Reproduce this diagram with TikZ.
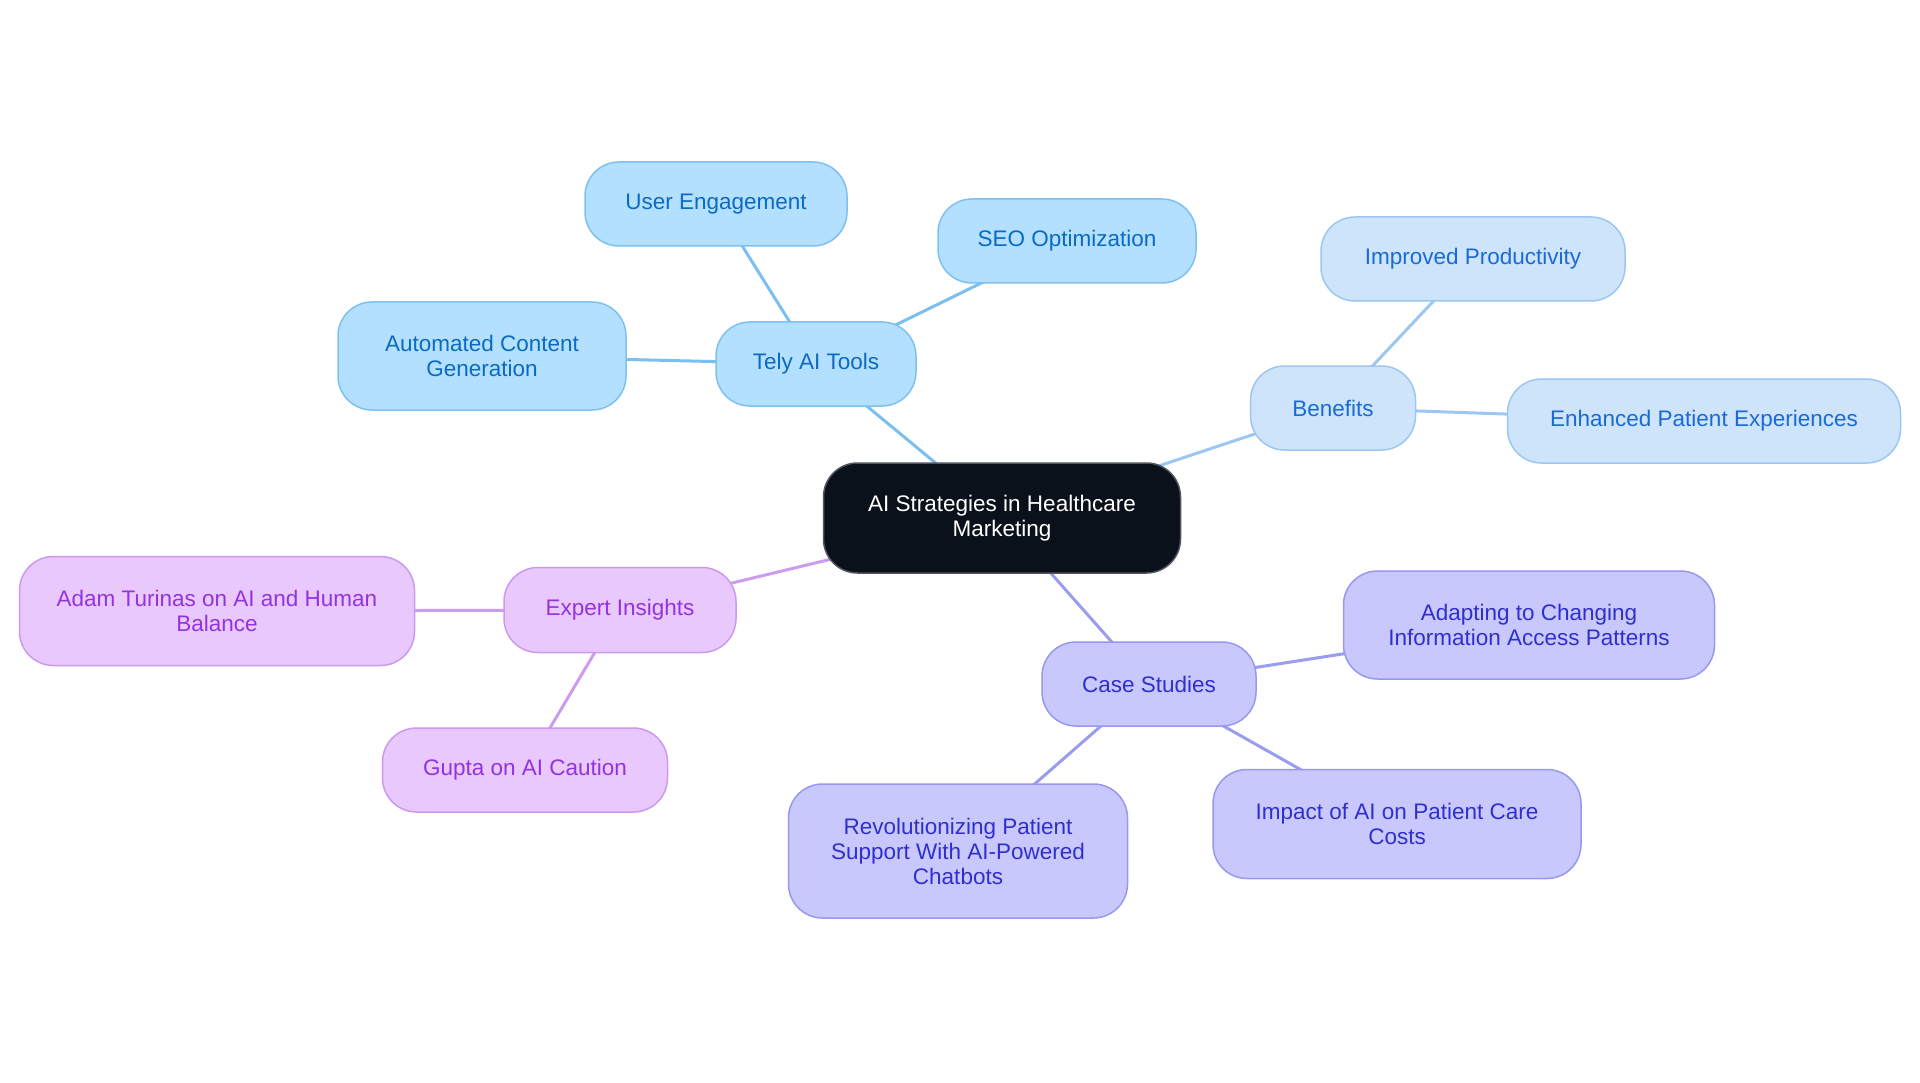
\documentclass[tikz,border=0pt]{standalone}
\usepackage{fontspec}
\setmainfont{Liberation Sans}
\usetikzlibrary{backgrounds}
\definecolor{rootfill}{HTML}{0B111B}
\definecolor{rootdraw}{HTML}{50565E}
\definecolor{tfill}{HTML}{B3E0FE}
\definecolor{tdraw}{HTML}{7EC1F0}
\definecolor{ttext}{HTML}{0B6AC4}
\definecolor{tline}{HTML}{7ABFF0}
\definecolor{bfill}{HTML}{CDE4FB}
\definecolor{bdraw}{HTML}{9DC6F2}
\definecolor{btext}{HTML}{1A6AD6}
\definecolor{bline}{HTML}{9DC6F2}
\definecolor{cfill}{HTML}{C8C8FD}
\definecolor{cdraw}{HTML}{9898F0}
\definecolor{ctext}{HTML}{2F2FD0}
\definecolor{cline}{HTML}{9A9CF0}
\definecolor{efill}{HTML}{E8C8FD}
\definecolor{edraw}{HTML}{CC99EE}
\definecolor{etext}{HTML}{9333E0}
\definecolor{eline}{HTML}{CC9CF0}
\begin{document}
\begin{tikzpicture}[x=1pt,y=-1pt,
  box/.style={draw, line width=1.5pt, rounded corners=34pt, align=center,
    inner sep=0pt, font=\fontsize{22.5}{25}\selectfont},
  rootbox/.style={box, fill=rootfill, draw=rootdraw, text=white},
  tbox/.style={box, fill=tfill, draw=tdraw, text=ttext},
  bbox/.style={box, fill=bfill, draw=bdraw, text=btext},
  cbox/.style={box, fill=cfill, draw=cdraw, text=ctext},
  ebox/.style={box, fill=efill, draw=edraw, text=etext},
  link/.style={line width=3pt}]
\useasboundingbox (0,0) rectangle (1920,1083);

\node[rootbox, minimum width=357pt, minimum height=110pt] (root) at (1002,518) {AI Strategies in Healthcare\\Marketing};

\node[tbox, minimum width=200pt, minimum height=84pt] (tely) at (816,364) {Tely AI Tools};
\node[tbox, minimum width=262pt, minimum height=84pt] (user) at (716,204) {User Engagement};
\node[tbox, minimum width=258pt, minimum height=84pt] (seo) at (1067,241) {SEO Optimization};
\node[tbox, minimum width=288pt, minimum height=108pt] (auto) at (482,356) {Automated Content\\Generation};

\node[bbox, minimum width=165pt, minimum height=84pt] (ben) at (1333,408) {Benefits};
\node[bbox, minimum width=304pt, minimum height=84pt] (prod) at (1473,259) {Improved Productivity};
\node[bbox, minimum width=393pt, minimum height=84pt] (enh) at (1704,421) {Enhanced Patient Experiences};

\node[ebox, minimum width=232pt, minimum height=85pt] (exp) at (620,610) {Expert Insights};
\node[ebox, minimum width=395pt, minimum height=109pt] (adam) at (217,611) {Adam Turinas on AI and Human\\Balance};
\node[ebox, minimum width=285pt, minimum height=84pt] (gupta) at (525,770) {Gupta on AI Caution};

\node[cbox, minimum width=214pt, minimum height=84pt] (case) at (1149,684) {Case Studies};
\node[cbox, minimum width=371pt, minimum height=108pt] (adapt) at (1529,625) {Adapting to Changing\\Information Access Patterns};
\node[cbox, minimum width=368pt, minimum height=109pt] (impact) at (1397,824) {Impact of AI on Patient Care\\Costs};
\node[cbox, minimum width=339pt, minimum height=134pt] (revo) at (958,851) {Revolutionizing Patient\\Support With AI-Powered\\Chatbots};

\begin{scope}[on background layer]
  \fill[white] (0,0) rectangle (1920,1083);
  \draw[link, tline] (root.center) -- (tely.center);
  \draw[link, tline] (tely.center) -- (user.center);
  \draw[link, tline] (tely.center) -- (seo.center);
  \draw[link, tline] (tely.center) -- (auto.center);
  \draw[link, bline] (root.center) -- (ben.center);
  \draw[link, bline] (ben.center) -- (prod.center);
  \draw[link, bline] (ben.center) -- (enh.center);
  \draw[link, eline] (root.center) -- (exp.center);
  \draw[link, eline] (exp.center) -- (adam.center);
  \draw[link, eline] (exp.center) -- (gupta.center);
  \draw[link, cline] (root.center) -- (case.center);
  \draw[link, cline] (case.center) -- (adapt.center);
  \draw[link, cline] (case.center) -- (impact.center);
  \draw[link, cline] (case.center) -- (revo.center);
\end{scope}
\end{tikzpicture}
\end{document}
